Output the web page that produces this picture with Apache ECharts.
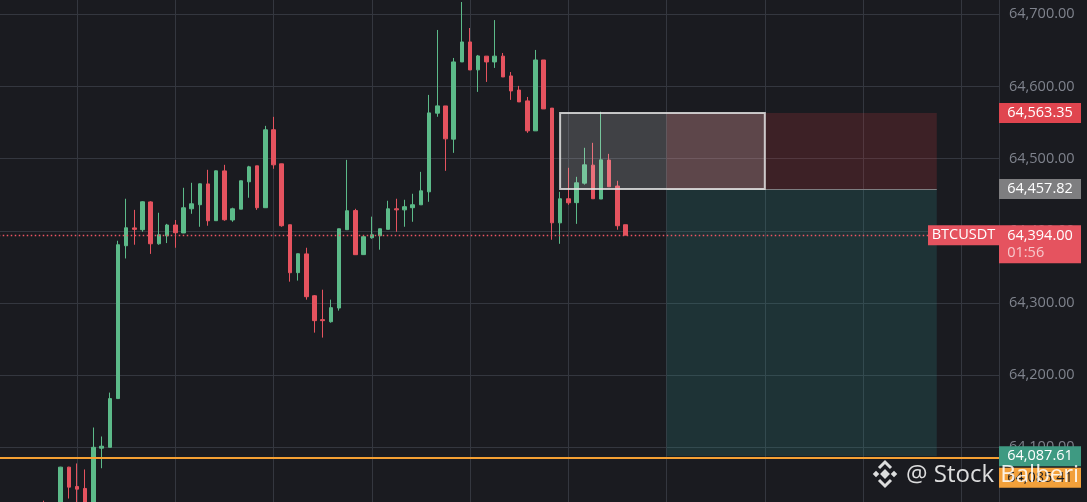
<!DOCTYPE html>
<html>
<head>
<meta charset="utf-8">
<script src="https://cdn.jsdelivr.net/npm/echarts@6/dist/echarts.min.js"></script>
<style>
html,body{margin:0;padding:0;background:#1a1b20;overflow:hidden;}
#c{width:1087px;height:502px;}
</style>
</head>
<body>
<div id="c"></div>
<script>
// ---- data (bar slot index, OHLC) ----
const candleX = [-4,-2,-1,0,1,2,3,4,5,6,7,8,9,10,11,12,13,14,15,16,17,18,19,20,21,22,23,24,25,26,27,28,29,30,31,32,33,34,35,36,37,38,39,40,41,42,43,44,45,46,47,48,49,50,51,52,53,54,55,56,57,58,59,60,61,62,63,64,65,66,67];
const opens  = [64010,64000,64072.5,64045.7,64043,64008,64098.8,64100,64167.5,64379.3,64404,64401.5,64440,64382,64393,64408,64397,64430.5,64436.1,64465,64414,64483,64415,64430,64467.9,64490,64432,64540,64492.8,64408.4,64342,64368,64310,64276.9,64274,64293,64401.5,64428,64367,64390.4,64393.1,64402,64430.5,64429,64432,64436,64454,64563,64573,64527,64634,64661.7,64623,64642,64634,64642,64614.6,64595,64580,64538.5,64636.7,64570,64411,64444.4,64439,64466,64491,64444,64498,64462,64408.4];
const closes = [63990,64072.5,64044.8,64042,64005,64100,64101.5,64167.5,64380.7,64404.2,64402,64440.2,64382,64394.5,64408,64397.3,64431.9,64437.4,64465.1,64413.9,64483.1,64415.3,64430.5,64469.3,64488.6,64432,64539.9,64491.4,64407,64341.9,64368.2,64308.7,64275.5,64275.5,64293.5,64402.8,64427.8,64366.9,64391.8,64394.5,64402.8,64430.5,64429,64433.4,64436.1,64455.4,64563.4,64573.1,64527.4,64634,64661.7,64622.9,64642.3,64634,64642,64613.2,64593.8,64578.6,64538.5,64636.7,64568.9,64411.1,64444.4,64438.8,64466.5,64491.4,64444.4,64498.3,64461,64407,64394];
const lows   = [63970,63990,64029,64010,63995,64000,64071,64100,64167.5,64361.7,64380.7,64398.7,64368,64380.7,64383,64376.5,64397,64423.6,64405.6,64407,64414,64413.9,64412.5,64430,64445.8,64429,64432,64485.9,64405.6,64329.5,64331,64304.6,64258.9,64252,64272.7,64289.4,64401.5,64366.9,64367,64389,64373.8,64402,64398.7,64405.6,64412.5,64436,64440.2,64558,64483.1,64508,64634,64622.9,64592.5,64606.3,64625.7,64613.2,64581.4,64578.6,64535.7,64538.5,64568.9,64387.6,64382,64436,64409.6,64464,64444.4,64444,64461,64401.5,64394];
const highs  = [64026,64073,64073,64077.6,64069.3,64127.4,64115,64175.8,64386.2,64444.4,64429,64441,64441,64425,64409.6,64415,64459.6,64466.5,64465.5,64484.5,64483.5,64491.4,64432,64469.5,64490,64490,64545.4,64557.9,64493,64408.5,64368.5,64376.5,64311,64318.4,64304.6,64403,64498.3,64430.5,64393,64419.6,64403,64441.6,64444.4,64443,64451.3,64481.7,64588.3,64678.3,64573,64639.5,64717,64681,64643.7,64642,64692,64646.4,64620,64600.8,64585.5,64650.6,64636.7,64570,64454,64487.3,64474.8,64515,64521.9,64565,64506.6,64469.3,64408.4];

// price levels
const lastPrice   = 64394.00;
const countdown   = '01:56';
const symbolName  = 'BTCUSDT';
const stopPrice   = 64563.35;
const entryPrice  = 64457.82;
const targetPrice = 64087.61;
const alertPrice  = 64085.41;
// position tool / rectangle extents (bar slots)
const zoneSlots = [72, 105];
const rectSlots = [59, 84];
// axis ranges
const xRange = [-12, 112.6];
const yRange = [64000, 64800];

// ---- style ----
const BG = '#1a1b20', GRID = '#34373f';
const UP = '#5cba89', DOWN = '#e5535f';
const FONT = '"Open Sans", "Noto Sans", sans-serif';
const FS = 14.5;
const fmt = v => v.toLocaleString('en-US', {minimumFractionDigits: 2, maximumFractionDigits: 2});

const ohlc = candleX.map((x, i) => [x, opens[i], closes[i], lows[i], highs[i]]);

function tag(price, text, bg, fg, size, offset, extra) {
  return Object.assign({
    coord: [xRange[1], price], value: price,
    symbol: 'rect', symbolSize: size, symbolOffset: offset,
    itemStyle: {color: bg},
    label: {show: true, position: 'inside', formatter: text, color: fg,
            fontSize: FS, fontFamily: FONT}
  }, extra || {});
}

const chart = echarts.init(document.getElementById('c'), null, {renderer: 'canvas'});
chart.setOption({
  backgroundColor: BG,
  animation: false,
  grid: {left: -21.26, right: 88, top: -57.87, bottom: -17.47, containLabel: false, outerBoundsMode: 'none'},
  xAxis: {
    type: 'value', min: xRange[0], max: xRange[1], interval: 12,
    axisLine: {show: false}, axisTick: {show: false}, axisLabel: {show: false},
    splitLine: {show: true, lineStyle: {color: GRID, width: 1}}
  },
  yAxis: {
    type: 'value', position: 'right', min: yRange[0], max: yRange[1], interval: 100,
    axisLine: {show: false}, axisTick: {show: false},
    axisLabel: {color: '#7f838d', fontSize: FS, fontFamily: FONT, margin: 10,
                formatter: v => (Math.round(v) % 100 === 0 ? fmt(v) : '')},
    splitLine: {show: true, lineStyle: {color: GRID, width: 1}}
  },
  series: [
    {
      type: 'line', data: [], z: 1, silent: true,
      markArea: {
        silent: true, z: 1,
        data: [
          [{coord: [zoneSlots[0], stopPrice], itemStyle: {color: 'rgba(206,62,67,0.2)'}},
           {coord: [zoneSlots[1], entryPrice]}],
          [{coord: [zoneSlots[0], entryPrice], itemStyle: {color: 'rgba(51,152,147,0.2)'}},
           {coord: [zoneSlots[1], targetPrice]}]
        ]
      },
      markLine: {
        silent: true, symbol: ['none', 'none'], label: {show: false}, z: 3,
        data: [
          [{coord: [zoneSlots[0], entryPrice], lineStyle: {color: '#7d7d80', width: 1, type: 'solid'}},
           {coord: [zoneSlots[1], entryPrice]}],
          {yAxis: lastPrice, lineStyle: {color: '#ee5562', width: 1.4, type: [1.5, 2.5], opacity: 1}},
          {yAxis: alertPrice, lineStyle: {color: '#f5a033', width: 2, type: 'solid'}}
        ]
      }
    },
    {
      type: 'candlestick', data: ohlc, barWidth: 4, z: 2,
      itemStyle: {color: UP, color0: DOWN, borderColor: UP, borderColor0: DOWN, borderWidth: 1}
    },
    {
      type: 'line', data: [], z: 4, silent: true,
      markArea: {
        silent: true, z: 4,
        itemStyle: {color: 'rgba(255,255,255,0.17)', borderColor: 'rgba(225,225,225,0.85)', borderWidth: 2},
        data: [[{coord: [rectSlots[0], stopPrice]}, {coord: [rectSlots[1], entryPrice]}]]
      }
    },
    {
      type: 'line', data: [], z: 10, silent: true, clip: false,
      markPoint: {
        silent: true, z: 10,
        data: [
          tag(stopPrice, fmt(stopPrice), '#e0454f', '#ffffff', [82, 20], [41, 0]),
          tag(entryPrice, fmt(entryPrice), '#7e7e80', '#ffffff', [82, 20], [41, 0]),
          tag(lastPrice, '{a|' + fmt(lastPrice) + '}\n{b|' + countdown + '}', DOWN, '#ffffff', [82, 38], [41, 9], {
            label: {show: true, position: 'inside', formatter: '{a|' + fmt(lastPrice) + '}\n{b|' + countdown + '}',
              rich: {a: {color: '#ffffff', fontSize: FS, fontFamily: FONT, lineHeight: 17.5},
                     b: {color: 'rgba(255,255,255,0.68)', fontSize: FS, fontFamily: FONT, lineHeight: 17.5, align: 'left', width: 64}}}
          }),
          tag(lastPrice, symbolName, DOWN, '#ffffff', [71, 20], [-35.5, 0]),
          tag(targetPrice, fmt(targetPrice), '#3e9a82', '#ffffff', [82, 20], [41, 0]),
          tag(alertPrice, fmt(alertPrice), '#f2a03a', '#1b1c21', [82, 20], [41, 20])
        ]
      }
    }
  ],
  graphic: [
    {
      type: 'group', x: 885, y: 474, z: 100,
      children: [
        {type: 'rect', shape: {x: -3.5, y: -3.5, width: 7, height: 7}, rotation: Math.PI / 4, style: {fill: 'rgba(255,255,255,0.85)'}},
        {type: 'rect', x: -9, shape: {x: -2.3, y: -2.3, width: 4.6, height: 4.6}, rotation: Math.PI / 4, style: {fill: 'rgba(255,255,255,0.85)'}},
        {type: 'rect', x: 9, shape: {x: -2.3, y: -2.3, width: 4.6, height: 4.6}, rotation: Math.PI / 4, style: {fill: 'rgba(255,255,255,0.85)'}},
        {type: 'polyline', shape: {points: [[-6, -6], [0, -12], [6, -6]]}, style: {stroke: 'rgba(255,255,255,0.85)', lineWidth: 3, fill: null}},
        {type: 'polyline', shape: {points: [[-6, 6], [0, 12], [6, 6]]}, style: {stroke: 'rgba(255,255,255,0.85)', lineWidth: 3, fill: null}}
      ]
    },
    {
      type: 'text', x: 906, y: 475, z: 100,
      style: {text: '@ Stock Balberi', fill: 'rgba(255,255,255,0.85)', font: '24px "Open Sans", sans-serif', textVerticalAlign: 'middle', verticalAlign: 'middle'}
    }
  ]
});
</script>
</body>
</html>
